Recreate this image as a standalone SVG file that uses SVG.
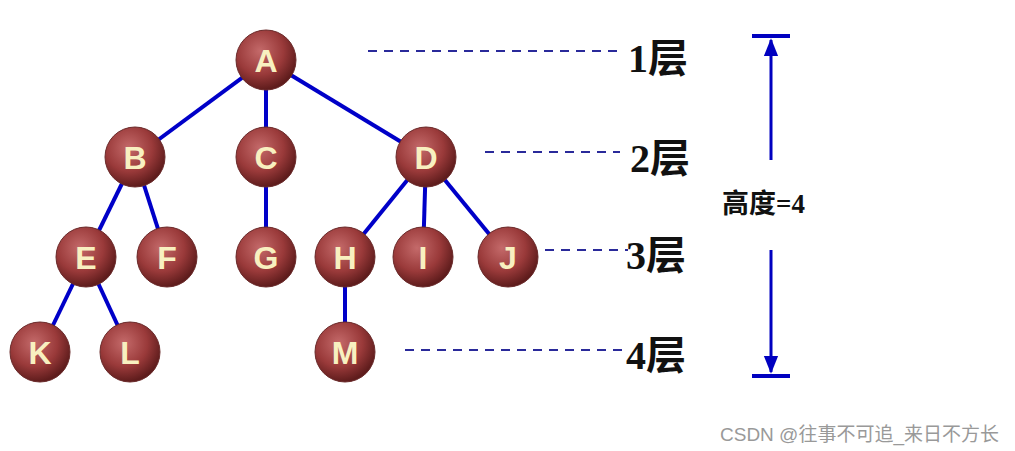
<svg xmlns="http://www.w3.org/2000/svg" width="1015" height="451" viewBox="0 0 1015 451">
<defs>
<radialGradient id="g" cx="0.4" cy="0.35" r="0.65">
<stop offset="0" stop-color="#c46a6a"/><stop offset="0.6" stop-color="#9a3a3a"/><stop offset="1" stop-color="#5e1c1c"/>
</radialGradient>
<marker id="ar" viewBox="0 0 10 10" refX="9" refY="5" markerWidth="6" markerHeight="8" orient="auto"><path d="M0,1 L10,5 L0,9 z" fill="#0000c0"/></marker>
</defs>
<style>
.n circle{fill:url(#g);stroke:#6a2a2a;stroke-width:1}
.n text{font-family:"Liberation Sans",Arial,sans-serif;font-size:32px;font-weight:bold;fill:#f8f0c0;text-anchor:middle}
.e line{stroke:#0000c8;stroke-width:4}
.d line{stroke:#2a2a9a;stroke-width:2;stroke-dasharray:9,7}
.lv{font-family:"Liberation Serif","Noto Sans CJK SC",serif;font-weight:bold;font-size:40px;fill:#111}
</style>
<rect width="1015" height="451" fill="#fff"/>
<g id="connectors" class="e">
<line x1="266" y1="60" x2="135" y2="157"/><line x1="266" y1="60" x2="266" y2="157"/><line x1="266" y1="60" x2="426" y2="157"/>
<line x1="135" y1="157" x2="86" y2="257"/><line x1="135" y1="157" x2="167" y2="257"/>
<line x1="266" y1="157" x2="266" y2="257"/>
<line x1="426" y1="157" x2="345" y2="257"/><line x1="426" y1="157" x2="423" y2="257"/><line x1="426" y1="157" x2="508" y2="257"/>
<line x1="86" y1="257" x2="40" y2="352"/><line x1="86" y1="257" x2="130" y2="352"/>
<line x1="345" y1="257" x2="345" y2="352"/>
</g>
<g id="nA" class="n"><circle cx="266" cy="60" r="30"/><text x="266" y="72">A</text></g>
<g id="nB" class="n"><circle cx="135" cy="157" r="30"/><text x="135" y="169">B</text></g>
<g id="nC" class="n"><circle cx="266" cy="157" r="30"/><text x="266" y="169">C</text></g>
<g id="nD" class="n"><circle cx="426" cy="157" r="30"/><text x="426" y="169">D</text></g>
<g id="nE" class="n"><circle cx="86" cy="257" r="30"/><text x="86" y="269">E</text></g>
<g id="nF" class="n"><circle cx="167" cy="257" r="30"/><text x="167" y="269">F</text></g>
<g id="nG" class="n"><circle cx="266" cy="257" r="30"/><text x="266" y="269">G</text></g>
<g id="nH" class="n"><circle cx="345" cy="257" r="30"/><text x="345" y="269">H</text></g>
<g id="nI" class="n"><circle cx="423" cy="257" r="30"/><text x="423" y="269">I</text></g>
<g id="nJ" class="n"><circle cx="508" cy="257" r="30"/><text x="508" y="269">J</text></g>
<g id="nK" class="n"><circle cx="40" cy="352" r="30"/><text x="40" y="364">K</text></g>
<g id="nL" class="n"><circle cx="130" cy="352" r="30"/><text x="130" y="364">L</text></g>
<g id="nM" class="n"><circle cx="345" cy="352" r="30"/><text x="345" y="364">M</text></g>
<g id="levels">
<g class="d"><line x1="368" y1="51" x2="622" y2="51"/><line x1="485" y1="152" x2="620" y2="152"/><line x1="545" y1="250" x2="628" y2="250"/><line x1="405" y1="350" x2="625" y2="350"/></g>
<text class="lv" x="628" y="72">1层</text>
<text class="lv" x="630" y="172">2层</text>
<text class="lv" x="626" y="269">3层</text>
<text class="lv" x="626" y="369">4层</text>
</g>
<g id="height">
<line x1="752" y1="36" x2="790" y2="36" stroke="#0000c0" stroke-width="4"/>
<line x1="752" y1="376" x2="790" y2="376" stroke="#0000c0" stroke-width="4"/>
<line x1="771" y1="160" x2="771" y2="40" stroke="#0000c0" stroke-width="3" marker-end="url(#ar)"/>
<line x1="771" y1="250" x2="771" y2="372" stroke="#0000c0" stroke-width="3" marker-end="url(#ar)"/>
<text x="722" y="213" font-family="Liberation Serif,'Noto Sans CJK SC',serif" font-weight="bold" font-size="27" fill="#111">高度=4</text>
</g>
<text x="720" y="441" font-family="'Liberation Sans','Noto Sans CJK SC',sans-serif" font-size="19" fill="#999">CSDN @往事不可追_来日不方长</text>
</svg>
